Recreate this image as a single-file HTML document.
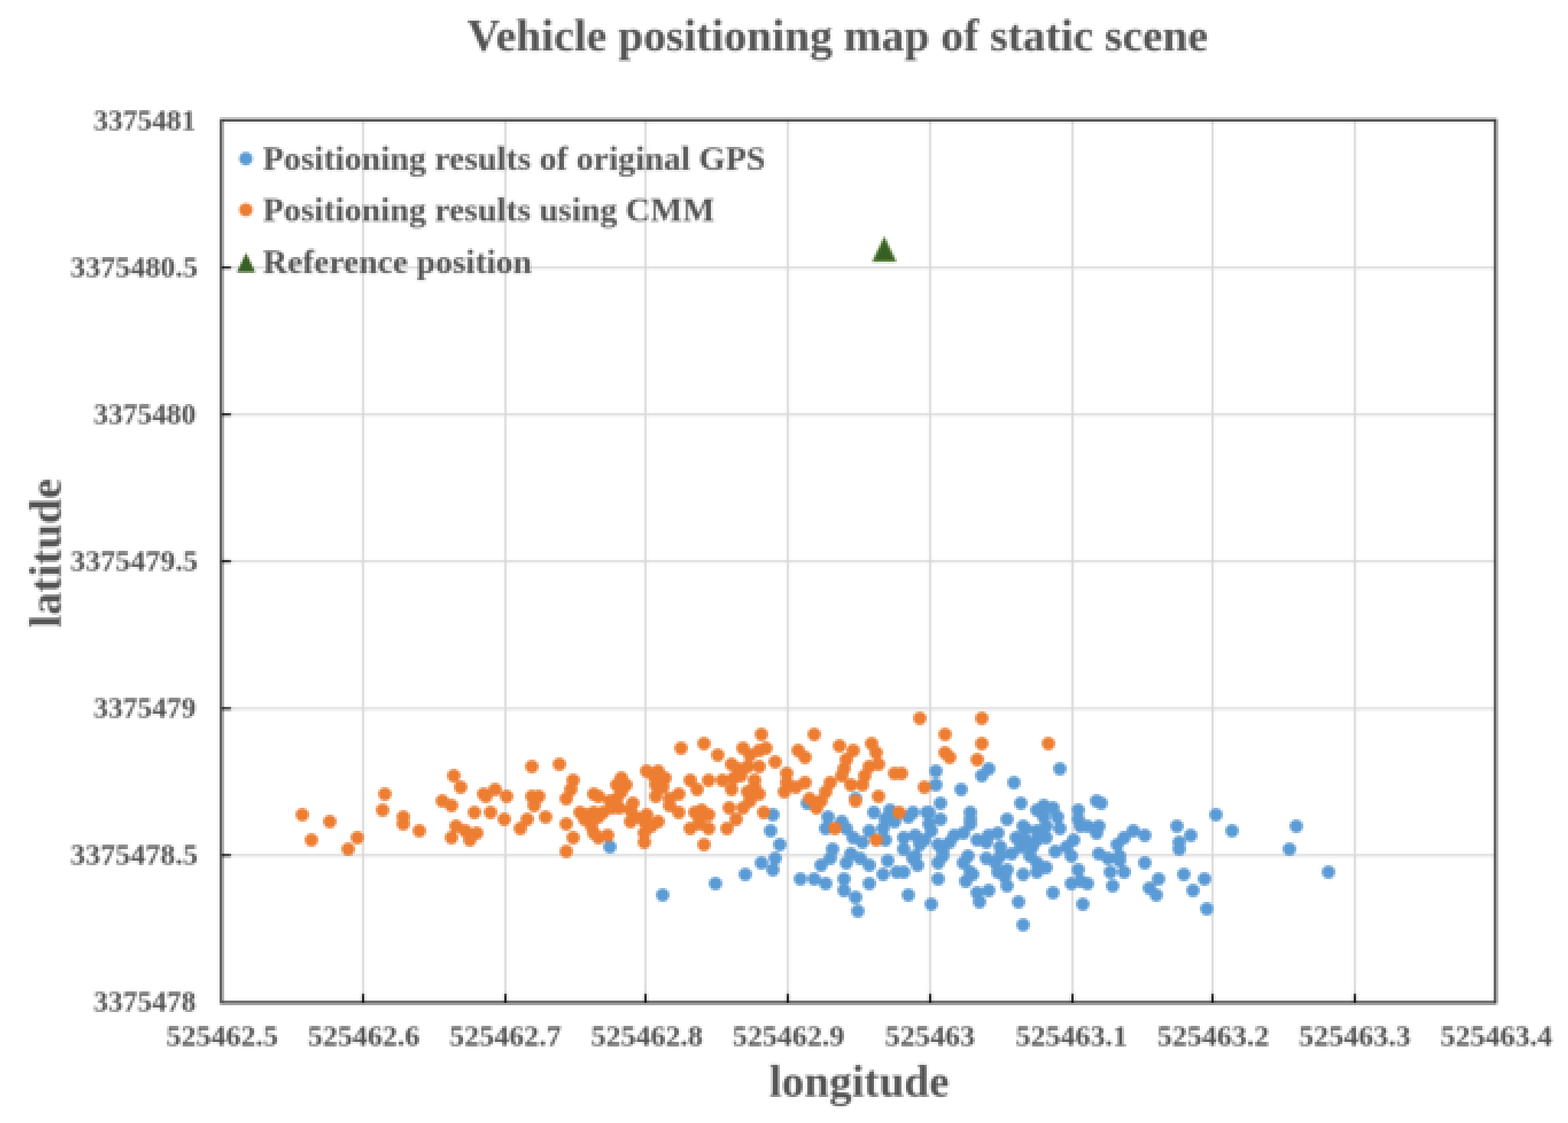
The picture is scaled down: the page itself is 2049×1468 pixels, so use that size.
<!DOCTYPE html>
<html lang="en"><head><meta charset="utf-8"><title>Vehicle positioning map of static scene</title>
<style>html,body{margin:0;padding:0;background:#fff}body{width:2049px;height:1468px;overflow:hidden}svg{display:block}text{font-family:"Liberation Serif", serif;font-weight:bold;fill:#535353}</style></head><body>
<svg width="2049" height="1468" viewBox="0 0 2049 1468" role="img" aria-label="Vehicle positioning map of static scene">
<defs>
<filter id="lowres" filterUnits="userSpaceOnUse" x="0" y="0" width="2049" height="1468" color-interpolation-filters="sRGB"><feGaussianBlur in="SourceGraphic" stdDeviation="0.85" result="avg"/><feFlood x="3" y="1" width="1" height="1" flood-color="#000" result="dot"/><feComposite in="dot" in2="dot" operator="over" x="2" y="0" width="3" height="3" result="cell"/><feTile in="cell" result="tiles"/><feComposite in="avg" in2="tiles" operator="in"/><feMorphology operator="dilate" radius="1"/><feGaussianBlur stdDeviation="0.7" result="px"/><feMerge><feMergeNode in="avg"/><feMergeNode in="px"/></feMerge></filter>
</defs>
<g filter="url(#lowres)">
<rect width="2049" height="1468" fill="#fff"/>
<g stroke="#d9d9d9" stroke-width="3" fill="none">
<line x1="474.5" y1="157.4" x2="474.5" y2="1310.6"/>
<line x1="660.5" y1="157.4" x2="660.5" y2="1310.6"/>
<line x1="843.5" y1="157.4" x2="843.5" y2="1310.6"/>
<line x1="1029.5" y1="157.4" x2="1029.5" y2="1310.6"/>
<line x1="1215.5" y1="157.4" x2="1215.5" y2="1310.6"/>
<line x1="1401.5" y1="157.4" x2="1401.5" y2="1310.6"/>
<line x1="1584.5" y1="157.4" x2="1584.5" y2="1310.6"/>
<line x1="1770.5" y1="157.4" x2="1770.5" y2="1310.6"/>
<line x1="289.3" y1="349.9" x2="1954.3" y2="349.9"/>
<line x1="289.3" y1="541.9" x2="1954.3" y2="541.9"/>
<line x1="289.3" y1="733.8" x2="1954.3" y2="733.8"/>
<line x1="289.3" y1="926.4" x2="1954.3" y2="926.4"/>
<line x1="289.3" y1="1118.2" x2="1954.3" y2="1118.2"/>
</g>
<g fill="#5b9bd5">
<circle cx="797" cy="1107" r="8.7"/><circle cx="1010" cy="1065" r="8.7"/><circle cx="1055" cy="1050" r="8.7"/><circle cx="1118" cy="1044" r="8.7"/><circle cx="1082" cy="1068" r="8.7"/><circle cx="1100" cy="1074" r="8.7"/><circle cx="1142" cy="1062" r="8.7"/><circle cx="1163" cy="1059" r="8.7"/><circle cx="1157" cy="1071" r="8.7"/><circle cx="1193" cy="1062" r="8.7"/><circle cx="1187" cy="1068" r="8.7"/><circle cx="1223" cy="1008" r="8.7"/><circle cx="1223" cy="1026" r="8.7"/><circle cx="1256" cy="1032" r="8.7"/><circle cx="1292" cy="1005" r="8.7"/><circle cx="1283" cy="1014" r="8.7"/><circle cx="1325" cy="1023" r="8.7"/><circle cx="1385" cy="1005" r="8.7"/><circle cx="1229" cy="1050" r="8.7"/><circle cx="1334" cy="1050" r="8.7"/><circle cx="1433" cy="1047" r="8.7"/><circle cx="1439" cy="1050" r="8.7"/><circle cx="1268" cy="1062" r="8.7"/><circle cx="1268" cy="1071" r="8.7"/><circle cx="1316" cy="1071" r="8.7"/><circle cx="1229" cy="1071" r="8.7"/><circle cx="1211" cy="1062" r="8.7"/><circle cx="1355" cy="1059" r="8.7"/><circle cx="1364" cy="1053" r="8.7"/><circle cx="1376" cy="1056" r="8.7"/><circle cx="1382" cy="1068" r="8.7"/><circle cx="1364" cy="1068" r="8.7"/><circle cx="1409" cy="1059" r="8.7"/><circle cx="1409" cy="1071" r="8.7"/><circle cx="1589" cy="1065" r="8.7"/><circle cx="1007" cy="1086" r="8.7"/><circle cx="1019" cy="1104" r="8.7"/><circle cx="995" cy="1128" r="8.7"/><circle cx="1013" cy="1122" r="8.7"/><circle cx="1010" cy="1137" r="8.7"/><circle cx="974" cy="1143" r="8.7"/><circle cx="935" cy="1155" r="8.7"/><circle cx="866" cy="1170" r="8.7"/><circle cx="1046" cy="1149" r="8.7"/><circle cx="1064" cy="1149" r="8.7"/><circle cx="1079" cy="1083" r="8.7"/><circle cx="1106" cy="1083" r="8.7"/><circle cx="1115" cy="1095" r="8.7"/><circle cx="1127" cy="1101" r="8.7"/><circle cx="1136" cy="1086" r="8.7"/><circle cx="1154" cy="1083" r="8.7"/><circle cx="1157" cy="1098" r="8.7"/><circle cx="1169" cy="1074" r="8.7"/><circle cx="1160" cy="1068" r="8.7"/><circle cx="1214" cy="1062" r="8.7"/><circle cx="1214" cy="1077" r="8.7"/><circle cx="1217" cy="1086" r="8.7"/><circle cx="1181" cy="1095" r="8.7"/><circle cx="1196" cy="1092" r="8.7"/><circle cx="1208" cy="1098" r="8.7"/><circle cx="1202" cy="1104" r="8.7"/><circle cx="1181" cy="1110" r="8.7"/><circle cx="1196" cy="1119" r="8.7"/><circle cx="1199" cy="1131" r="8.7"/><circle cx="1193" cy="1122" r="8.7"/><circle cx="1088" cy="1110" r="8.7"/><circle cx="1085" cy="1122" r="8.7"/><circle cx="1073" cy="1131" r="8.7"/><circle cx="1112" cy="1116" r="8.7"/><circle cx="1106" cy="1128" r="8.7"/><circle cx="1124" cy="1122" r="8.7"/><circle cx="1136" cy="1131" r="8.7"/><circle cx="1160" cy="1125" r="8.7"/><circle cx="1154" cy="1143" r="8.7"/><circle cx="1172" cy="1140" r="8.7"/><circle cx="1181" cy="1140" r="8.7"/><circle cx="1079" cy="1155" r="8.7"/><circle cx="1103" cy="1149" r="8.7"/><circle cx="1103" cy="1164" r="8.7"/><circle cx="1136" cy="1155" r="8.7"/><circle cx="1118" cy="1173" r="8.7"/><circle cx="1121" cy="1191" r="8.7"/><circle cx="1187" cy="1170" r="8.7"/><circle cx="1217" cy="1182" r="8.7"/><circle cx="1226" cy="1149" r="8.7"/><circle cx="1226" cy="1104" r="8.7"/><circle cx="1232" cy="1113" r="8.7"/><circle cx="1226" cy="1128" r="8.7"/><circle cx="1232" cy="1119" r="8.7"/><circle cx="1241" cy="1101" r="8.7"/><circle cx="1247" cy="1092" r="8.7"/><circle cx="1259" cy="1089" r="8.7"/><circle cx="1268" cy="1077" r="8.7"/><circle cx="1277" cy="1098" r="8.7"/><circle cx="1292" cy="1092" r="8.7"/><circle cx="1304" cy="1089" r="8.7"/><circle cx="1289" cy="1101" r="8.7"/><circle cx="1265" cy="1119" r="8.7"/><circle cx="1259" cy="1128" r="8.7"/><circle cx="1268" cy="1140" r="8.7"/><circle cx="1271" cy="1143" r="8.7"/><circle cx="1262" cy="1152" r="8.7"/><circle cx="1289" cy="1122" r="8.7"/><circle cx="1301" cy="1128" r="8.7"/><circle cx="1307" cy="1119" r="8.7"/><circle cx="1307" cy="1107" r="8.7"/><circle cx="1316" cy="1137" r="8.7"/><circle cx="1313" cy="1146" r="8.7"/><circle cx="1316" cy="1158" r="8.7"/><circle cx="1322" cy="1116" r="8.7"/><circle cx="1328" cy="1095" r="8.7"/><circle cx="1337" cy="1080" r="8.7"/><circle cx="1334" cy="1101" r="8.7"/><circle cx="1277" cy="1167" r="8.7"/><circle cx="1292" cy="1164" r="8.7"/><circle cx="1280" cy="1179" r="8.7"/><circle cx="1331" cy="1179" r="8.7"/><circle cx="1337" cy="1143" r="8.7"/><circle cx="1337" cy="1209" r="8.7"/><circle cx="1421" cy="1080" r="8.7"/><circle cx="1340" cy="1083" r="8.7"/><circle cx="1355" cy="1086" r="8.7"/><circle cx="1367" cy="1080" r="8.7"/><circle cx="1385" cy="1083" r="8.7"/><circle cx="1340" cy="1098" r="8.7"/><circle cx="1355" cy="1098" r="8.7"/><circle cx="1367" cy="1095" r="8.7"/><circle cx="1334" cy="1107" r="8.7"/><circle cx="1349" cy="1107" r="8.7"/><circle cx="1346" cy="1119" r="8.7"/><circle cx="1355" cy="1128" r="8.7"/><circle cx="1355" cy="1140" r="8.7"/><circle cx="1367" cy="1134" r="8.7"/><circle cx="1379" cy="1113" r="8.7"/><circle cx="1394" cy="1107" r="8.7"/><circle cx="1403" cy="1098" r="8.7"/><circle cx="1400" cy="1119" r="8.7"/><circle cx="1412" cy="1080" r="8.7"/><circle cx="1436" cy="1080" r="8.7"/><circle cx="1433" cy="1089" r="8.7"/><circle cx="1409" cy="1137" r="8.7"/><circle cx="1400" cy="1155" r="8.7"/><circle cx="1412" cy="1152" r="8.7"/><circle cx="1421" cy="1155" r="8.7"/><circle cx="1376" cy="1167" r="8.7"/><circle cx="1415" cy="1182" r="8.7"/><circle cx="1436" cy="1116" r="8.7"/><circle cx="1448" cy="1122" r="8.7"/><circle cx="1463" cy="1119" r="8.7"/><circle cx="1463" cy="1125" r="8.7"/><circle cx="1460" cy="1104" r="8.7"/><circle cx="1469" cy="1095" r="8.7"/><circle cx="1481" cy="1086" r="8.7"/><circle cx="1451" cy="1140" r="8.7"/><circle cx="1469" cy="1140" r="8.7"/><circle cx="1454" cy="1158" r="8.7"/><circle cx="1496" cy="1092" r="8.7"/><circle cx="1496" cy="1128" r="8.7"/><circle cx="1538" cy="1080" r="8.7"/><circle cx="1556" cy="1092" r="8.7"/><circle cx="1541" cy="1101" r="8.7"/><circle cx="1541" cy="1110" r="8.7"/><circle cx="1547" cy="1143" r="8.7"/><circle cx="1574" cy="1149" r="8.7"/><circle cx="1559" cy="1164" r="8.7"/><circle cx="1577" cy="1188" r="8.7"/><circle cx="1514" cy="1149" r="8.7"/><circle cx="1502" cy="1161" r="8.7"/><circle cx="1511" cy="1170" r="8.7"/><circle cx="1610" cy="1086" r="8.7"/><circle cx="1694" cy="1080" r="8.7"/><circle cx="1685" cy="1110" r="8.7"/><circle cx="1736" cy="1140" r="8.7"/><circle cx="1304" cy="1140" r="8.7"/>
</g>
<g fill="#ed7d31">
<circle cx="395" cy="1065" r="8.7"/><circle cx="431" cy="1074" r="8.7"/><circle cx="407" cy="1098" r="8.7"/><circle cx="467" cy="1095" r="8.7"/><circle cx="455" cy="1110" r="8.7"/><circle cx="503" cy="1038" r="8.7"/><circle cx="500" cy="1059" r="8.7"/><circle cx="527" cy="1068" r="8.7"/><circle cx="527" cy="1077" r="8.7"/><circle cx="548" cy="1086" r="8.7"/><circle cx="593" cy="1014" r="8.7"/><circle cx="602" cy="1029" r="8.7"/><circle cx="578" cy="1047" r="8.7"/><circle cx="590" cy="1053" r="8.7"/><circle cx="632" cy="1038" r="8.7"/><circle cx="635" cy="1041" r="8.7"/><circle cx="647" cy="1032" r="8.7"/><circle cx="620" cy="1062" r="8.7"/><circle cx="641" cy="1062" r="8.7"/><circle cx="596" cy="1080" r="8.7"/><circle cx="590" cy="1095" r="8.7"/><circle cx="608" cy="1086" r="8.7"/><circle cx="614" cy="1098" r="8.7"/><circle cx="623" cy="1089" r="8.7"/><circle cx="662" cy="1041" r="8.7"/><circle cx="659" cy="1071" r="8.7"/><circle cx="695" cy="1002" r="8.7"/><circle cx="731" cy="999" r="8.7"/><circle cx="749" cy="1020" r="8.7"/><circle cx="746" cy="1032" r="8.7"/><circle cx="740" cy="1044" r="8.7"/><circle cx="695" cy="1041" r="8.7"/><circle cx="704" cy="1041" r="8.7"/><circle cx="698" cy="1053" r="8.7"/><circle cx="713" cy="1068" r="8.7"/><circle cx="689" cy="1071" r="8.7"/><circle cx="680" cy="1083" r="8.7"/><circle cx="740" cy="1077" r="8.7"/><circle cx="749" cy="1095" r="8.7"/><circle cx="740" cy="1113" r="8.7"/><circle cx="776" cy="1038" r="8.7"/><circle cx="782" cy="1041" r="8.7"/><circle cx="812" cy="1017" r="8.7"/><circle cx="806" cy="1026" r="8.7"/><circle cx="818" cy="1026" r="8.7"/><circle cx="812" cy="1035" r="8.7"/><circle cx="797" cy="1047" r="8.7"/><circle cx="806" cy="1044" r="8.7"/><circle cx="758" cy="1062" r="8.7"/><circle cx="767" cy="1065" r="8.7"/><circle cx="776" cy="1062" r="8.7"/><circle cx="788" cy="1062" r="8.7"/><circle cx="800" cy="1056" r="8.7"/><circle cx="827" cy="1050" r="8.7"/><circle cx="824" cy="1059" r="8.7"/><circle cx="809" cy="1056" r="8.7"/><circle cx="764" cy="1071" r="8.7"/><circle cx="782" cy="1068" r="8.7"/><circle cx="773" cy="1080" r="8.7"/><circle cx="824" cy="1074" r="8.7"/><circle cx="830" cy="1068" r="8.7"/><circle cx="782" cy="1095" r="8.7"/><circle cx="794" cy="1092" r="8.7"/><circle cx="776" cy="1089" r="8.7"/><circle cx="845" cy="1065" r="8.7"/><circle cx="842" cy="1074" r="8.7"/><circle cx="860" cy="1074" r="8.7"/><circle cx="851" cy="1080" r="8.7"/><circle cx="842" cy="1089" r="8.7"/><circle cx="842" cy="1101" r="8.7"/><circle cx="845" cy="1008" r="8.7"/><circle cx="860" cy="1008" r="8.7"/><circle cx="854" cy="1014" r="8.7"/><circle cx="869" cy="1017" r="8.7"/><circle cx="857" cy="1026" r="8.7"/><circle cx="866" cy="1029" r="8.7"/><circle cx="857" cy="1041" r="8.7"/><circle cx="887" cy="1038" r="8.7"/><circle cx="875" cy="1044" r="8.7"/><circle cx="875" cy="1053" r="8.7"/><circle cx="887" cy="1062" r="8.7"/><circle cx="902" cy="1020" r="8.7"/><circle cx="911" cy="1032" r="8.7"/><circle cx="926" cy="1020" r="8.7"/><circle cx="890" cy="978" r="8.7"/><circle cx="920" cy="972" r="8.7"/><circle cx="908" cy="1062" r="8.7"/><circle cx="917" cy="1059" r="8.7"/><circle cx="926" cy="1065" r="8.7"/><circle cx="902" cy="1083" r="8.7"/><circle cx="920" cy="1104" r="8.7"/><circle cx="926" cy="1083" r="8.7"/><circle cx="914" cy="1071" r="8.7"/><circle cx="938" cy="987" r="8.7"/><circle cx="995" cy="960" r="8.7"/><circle cx="971" cy="978" r="8.7"/><circle cx="980" cy="987" r="8.7"/><circle cx="992" cy="981" r="8.7"/><circle cx="1001" cy="978" r="8.7"/><circle cx="1013" cy="996" r="8.7"/><circle cx="956" cy="999" r="8.7"/><circle cx="965" cy="1005" r="8.7"/><circle cx="977" cy="1002" r="8.7"/><circle cx="992" cy="1002" r="8.7"/><circle cx="944" cy="1020" r="8.7"/><circle cx="959" cy="1017" r="8.7"/><circle cx="956" cy="1032" r="8.7"/><circle cx="968" cy="1014" r="8.7"/><circle cx="986" cy="1020" r="8.7"/><circle cx="977" cy="1035" r="8.7"/><circle cx="992" cy="1038" r="8.7"/><circle cx="986" cy="1029" r="8.7"/><circle cx="953" cy="1056" r="8.7"/><circle cx="971" cy="1056" r="8.7"/><circle cx="980" cy="1047" r="8.7"/><circle cx="998" cy="1062" r="8.7"/><circle cx="914" cy="1077" r="8.7"/><circle cx="962" cy="1071" r="8.7"/><circle cx="950" cy="1083" r="8.7"/><circle cx="1028" cy="1011" r="8.7"/><circle cx="1028" cy="1023" r="8.7"/><circle cx="1025" cy="1035" r="8.7"/><circle cx="1040" cy="1029" r="8.7"/><circle cx="1052" cy="1023" r="8.7"/><circle cx="1043" cy="981" r="8.7"/><circle cx="1052" cy="990" r="8.7"/><circle cx="1064" cy="960" r="8.7"/><circle cx="1097" cy="975" r="8.7"/><circle cx="1115" cy="981" r="8.7"/><circle cx="1106" cy="993" r="8.7"/><circle cx="1103" cy="1005" r="8.7"/><circle cx="1100" cy="1014" r="8.7"/><circle cx="1139" cy="972" r="8.7"/><circle cx="1145" cy="984" r="8.7"/><circle cx="1148" cy="999" r="8.7"/><circle cx="1136" cy="1002" r="8.7"/><circle cx="1130" cy="1014" r="8.7"/><circle cx="1127" cy="1026" r="8.7"/><circle cx="1112" cy="1026" r="8.7"/><circle cx="1085" cy="1023" r="8.7"/><circle cx="1079" cy="1035" r="8.7"/><circle cx="1073" cy="1047" r="8.7"/><circle cx="1058" cy="1044" r="8.7"/><circle cx="1067" cy="1056" r="8.7"/><circle cx="1169" cy="1011" r="8.7"/><circle cx="1178" cy="1011" r="8.7"/><circle cx="1148" cy="1041" r="8.7"/><circle cx="1118" cy="1047" r="8.7"/><circle cx="1175" cy="1062" r="8.7"/><circle cx="1091" cy="1083" r="8.7"/><circle cx="1145" cy="1098" r="8.7"/><circle cx="1202" cy="939" r="8.7"/><circle cx="1283" cy="939" r="8.7"/><circle cx="1235" cy="960" r="8.7"/><circle cx="1283" cy="972" r="8.7"/><circle cx="1235" cy="984" r="8.7"/><circle cx="1241" cy="990" r="8.7"/><circle cx="1277" cy="993" r="8.7"/><circle cx="1370" cy="972" r="8.7"/><circle cx="1208" cy="1029" r="8.7"/>
</g>
<polygon points="1155.6,311.6 1169.8,341 1141.4,341" fill="#3a5f24" stroke="#4c7a2e" stroke-width="2.4" stroke-linejoin="miter"/>
<circle cx="321.3" cy="207.4" r="8.8" fill="#5b9bd5"/>
<circle cx="321.3" cy="274.2" r="8.8" fill="#ed7d31"/>
<polygon points="321.6,330.5 333.7,356 309.5,356" fill="#3a5f24"/>
<rect x="289.30" y="157.00" width="1665.00" height="1153.60" fill="none" stroke="#404040" stroke-width="3.9"/>
<g stroke="#000" stroke-width="3" fill="none">
<line x1="474.5" y1="1299.1" x2="474.5" y2="1310.6"/>
<line x1="660.5" y1="1299.1" x2="660.5" y2="1310.6"/>
<line x1="843.5" y1="1299.1" x2="843.5" y2="1310.6"/>
<line x1="1029.5" y1="1299.1" x2="1029.5" y2="1310.6"/>
<line x1="1215.5" y1="1299.1" x2="1215.5" y2="1310.6"/>
<line x1="1401.5" y1="1299.1" x2="1401.5" y2="1310.6"/>
<line x1="1584.5" y1="1299.1" x2="1584.5" y2="1310.6"/>
<line x1="1770.5" y1="1299.1" x2="1770.5" y2="1310.6"/>
<line x1="289.3" y1="349.9" x2="301.8" y2="349.9"/>
<line x1="289.3" y1="541.9" x2="301.8" y2="541.9"/>
<line x1="289.3" y1="733.8" x2="301.8" y2="733.8"/>
<line x1="289.3" y1="926.4" x2="301.8" y2="926.4"/>
<line x1="289.3" y1="1118.2" x2="301.8" y2="1118.2"/>
</g>
<text x="1094.6" y="65.5" font-size="60" text-anchor="middle" textLength="968" lengthAdjust="spacingAndGlyphs">Vehicle positioning map of static scene</text>
<text x="1122.8" y="1432.6" font-size="60" text-anchor="middle" textLength="235" lengthAdjust="spacingAndGlyphs">longitude</text>
<text transform="translate(79.4 723) rotate(-90)" font-size="60" text-anchor="middle" textLength="195" lengthAdjust="spacingAndGlyphs">latitude</text>
<text x="256.0" y="170.0" font-size="38.5" text-anchor="end" textLength="133.7" lengthAdjust="spacingAndGlyphs">3375481</text>
<text x="258.6" y="362.0" font-size="38.5" text-anchor="end" textLength="166.5" lengthAdjust="spacingAndGlyphs">3375480.5</text>
<text x="256.0" y="554.0" font-size="38.5" text-anchor="end" textLength="133.7" lengthAdjust="spacingAndGlyphs">3375480</text>
<text x="258.6" y="746.0" font-size="38.5" text-anchor="end" textLength="166.5" lengthAdjust="spacingAndGlyphs">3375479.5</text>
<text x="256.0" y="938.0" font-size="38.5" text-anchor="end" textLength="133.7" lengthAdjust="spacingAndGlyphs">3375479</text>
<text x="258.6" y="1130.0" font-size="38.5" text-anchor="end" textLength="166.5" lengthAdjust="spacingAndGlyphs">3375478.5</text>
<text x="256.0" y="1322.0" font-size="38.5" text-anchor="end" textLength="133.7" lengthAdjust="spacingAndGlyphs">3375478</text>
<text x="290.4" y="1367.4" font-size="38.5" text-anchor="middle" textLength="146.3" lengthAdjust="spacingAndGlyphs">525462.5</text>
<text x="475.4" y="1367.4" font-size="38.5" text-anchor="middle" textLength="146.3" lengthAdjust="spacingAndGlyphs">525462.6</text>
<text x="660.4" y="1367.4" font-size="38.5" text-anchor="middle" textLength="146.3" lengthAdjust="spacingAndGlyphs">525462.7</text>
<text x="845.4" y="1367.4" font-size="38.5" text-anchor="middle" textLength="146.3" lengthAdjust="spacingAndGlyphs">525462.8</text>
<text x="1030.4" y="1367.4" font-size="38.5" text-anchor="middle" textLength="146.3" lengthAdjust="spacingAndGlyphs">525462.9</text>
<text x="1215.4" y="1367.4" font-size="38.5" text-anchor="middle" textLength="117.6" lengthAdjust="spacingAndGlyphs">525463</text>
<text x="1400.4" y="1367.4" font-size="38.5" text-anchor="middle" textLength="146.3" lengthAdjust="spacingAndGlyphs">525463.1</text>
<text x="1585.4" y="1367.4" font-size="38.5" text-anchor="middle" textLength="146.3" lengthAdjust="spacingAndGlyphs">525463.2</text>
<text x="1770.4" y="1367.4" font-size="38.5" text-anchor="middle" textLength="146.3" lengthAdjust="spacingAndGlyphs">525463.3</text>
<text x="1955.4" y="1367.4" font-size="38.5" text-anchor="middle" textLength="146.3" lengthAdjust="spacingAndGlyphs">525463.4</text>
<text x="343.6" y="221.8" font-size="44.5" textLength="656.5" lengthAdjust="spacingAndGlyphs">Positioning results of original GPS</text>
<text x="343.6" y="289.3" font-size="44.5" textLength="590.5" lengthAdjust="spacingAndGlyphs">Positioning results using CMM</text>
<text x="343.6" y="356.8" font-size="44.5" textLength="351.5" lengthAdjust="spacingAndGlyphs">Reference position</text>
</g>
</svg></body></html>
